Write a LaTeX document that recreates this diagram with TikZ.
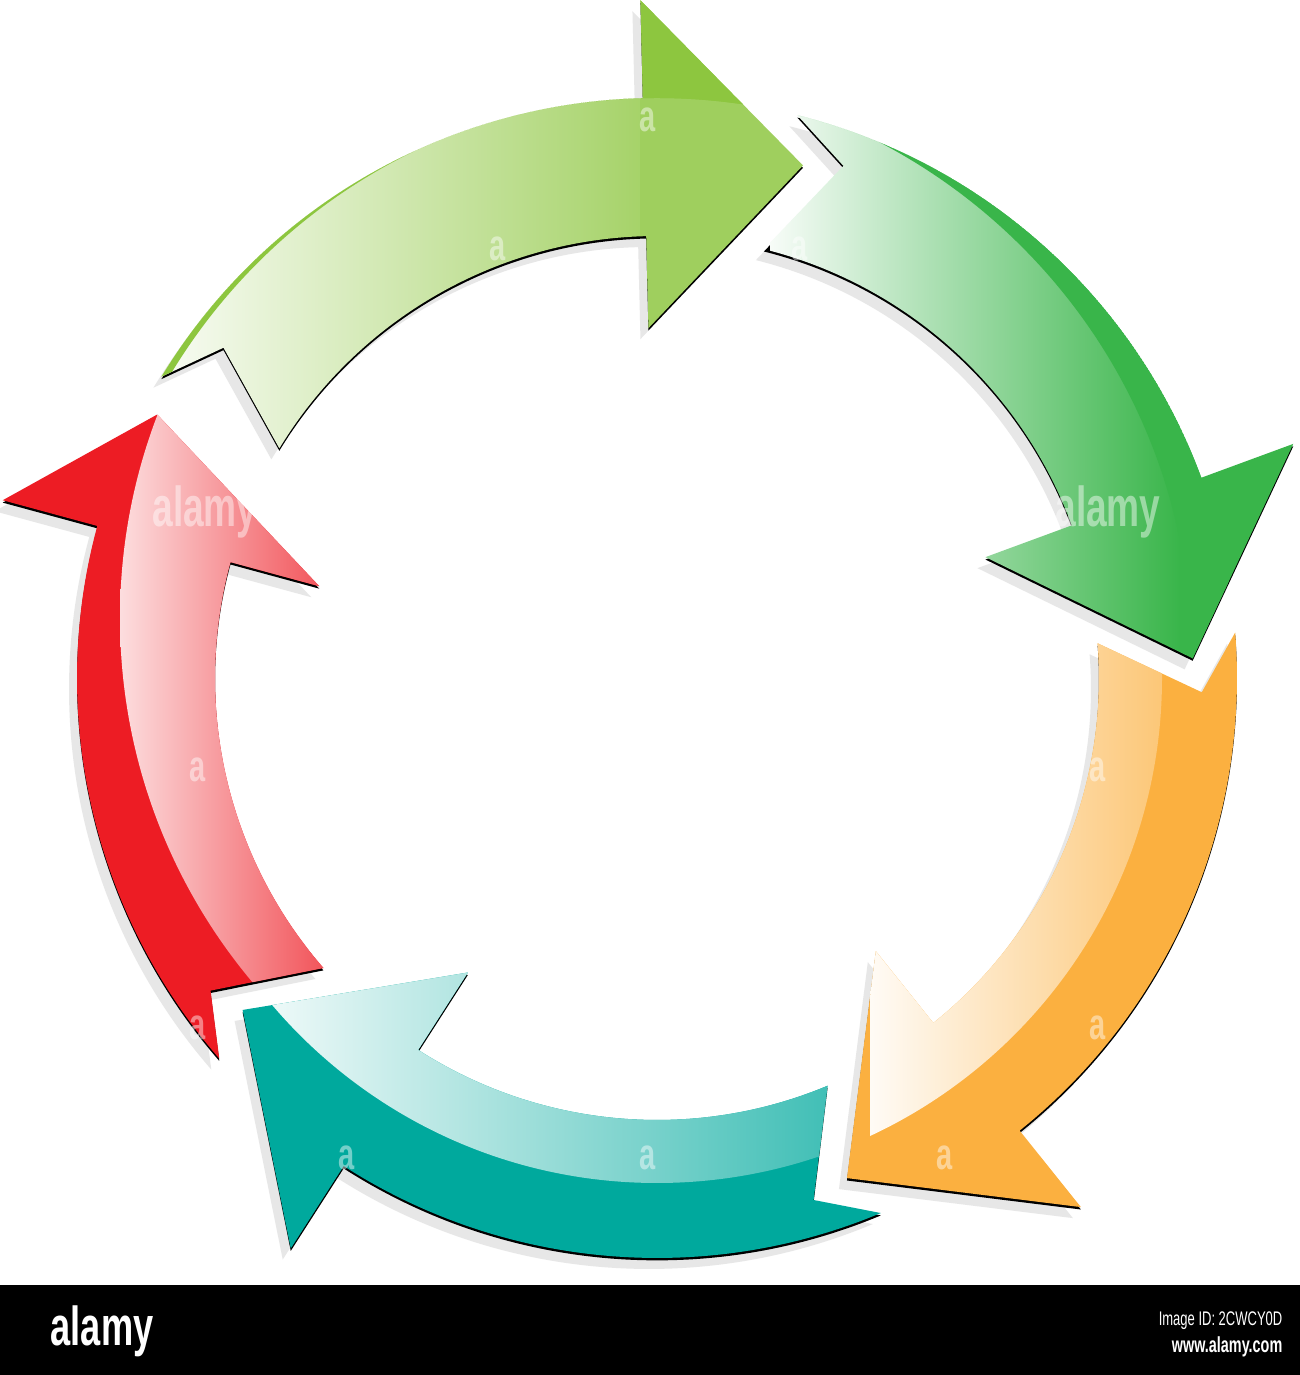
\documentclass[tikz,border=0pt]{standalone}
\usepackage{fontspec}
\setmainfont{Liberation Sans}
\newfontfamily\condfont[FakeStretch=0.66]{Liberation Sans}
\definecolor{gA}{HTML}{8DC63F}
\definecolor{gB}{HTML}{39B54A}
\definecolor{gC}{HTML}{FBB040}
\definecolor{gD}{HTML}{00A99D}
\definecolor{gE}{HTML}{ED1C24}
\definecolor{shadowgrey}{HTML}{E7E7E7}
% #1 tail angle, #2 head base angle, #3 tip angle, #4 tip radius
\newcommand\arrowpath[4]{(#1:580) -- ({#1-6}:545) -- (#1:442)
  arc[start angle=#1, end angle=#2, radius=442] -- (#2:350) -- (#3:#4)
  -- (#2:678) -- (#2:580) arc[start angle=#2, end angle=#1, radius=580] -- cycle}
\tikzset{
  wmark/.style={text=white, opacity=0.45, inner sep=0, font=\condfont\bfseries\fontsize{12.5}{13}\selectfont},
  edgeline/.style={fill=black, shift={(0,-2.4)}},
  dropshadow/.style={fill=shadowgrey, shift={(-8,-11)}}
}
\begin{document}
\begin{tikzpicture}[x=0.01cm, y=0.01cm]
\useasboundingbox (0,0) rectangle (1300,1375);
\fill[white] (0,0) rectangle (1300,1375);

\begin{scope}[shift={(657,697)}]
  % shadows
  \fill[dropshadow] \arrowpath{148.7}{91.4}{74.1}{533};
  \fill[dropshadow] \arrowpath{76}{20.2}{2.1}{536};
  \fill[dropshadow] \arrowpath{4.5}{-51.3}{-69.2}{535};
  \fill[dropshadow] \arrowpath{-67.3}{-122.7}{-141.3}{531};
  \fill[dropshadow] \arrowpath{-139}{-195.2}{-207.8}{565};

  % ---- top light green arrow
  \fill[edgeline] \arrowpath{148.7}{91.4}{74.1}{533};
  \begin{scope}
    \clip \arrowpath{148.7}{91.4}{74.1}{533};
    \shade[left color=gA!6!white, right color=gA!78!white] (-495,-100) rectangle (-17,800);
    \fill[gA!84!white] (-17,-100) rectangle (300,800);
    \fill[gA, even odd rule] (0,0) circle (580) (-800,-800) rectangle (800,800);
    \fill[gA, even odd rule] (0,0) circle (580) (25:12) circle (580);
  \end{scope}

  % ---- right green arrow
  \fill[edgeline] \arrowpath{76}{20.2}{2.1}{536};
  \begin{scope}
    \clip \arrowpath{76}{20.2}{2.1}{536};
    \shade[left color=gB!4!white, right color=gB] (113,-700) rectangle (523,700);
    \fill[gB] (523,-700) rectangle (800,700);
    \fill[gB, even odd rule] (0,0) circle (580) (155:50) circle (580);
  \end{scope}

  % ---- orange arrow
  \fill[edgeline] \arrowpath{4.5}{-51.3}{-69.2}{535};
  \fill[gC] \arrowpath{4.5}{-51.3}{-69.2}{535};
  \begin{scope}
    \clip \arrowpath{4.5}{-51.3}{-69.2}{535};
    \clip (0,0) circle (505);
    \shade[left color=gC!5!white, right color=gC!88!white] (213,-700) rectangle (580,700);
    \fill[gC!88!white] (580,-700) rectangle (800,700);
  \end{scope}

  % ---- teal arrow
  \fill[edgeline] \arrowpath{-67.3}{-122.7}{-141.3}{531};
  \fill[gD] \arrowpath{-67.3}{-122.7}{-141.3}{531};
  \begin{scope}
    \clip \arrowpath{-67.3}{-122.7}{-141.3}{531};
    \clip (0,0) circle (505);
    \shade[left color=gD!4!white, right color=gD!78!white] (-410,-700) rectangle (200,700);
    \fill[gD!78!white] (200,-700) rectangle (400,700);
  \end{scope}

  % ---- red arrow
  \fill[edgeline] \arrowpath{-139}{-195.2}{-207.8}{565};
  \fill[gE] \arrowpath{-139}{-195.2}{-207.8}{565};
  \begin{scope}
    \clip \arrowpath{-139}{-195.2}{-207.8}{565};
    \clip (30,60) circle (567);
    \shade[left color=gE!12!white, right color=gE!76!white] (-547,-700) rectangle (-330,700);
    \fill[gE!76!white] (-330,-700) rectangle (0,700);
  \end{scope}
\end{scope}

% faint watermarks
\node[wmark] (wm1) at (205,863) {\fontsize{16}{17}\selectfont alamy};
\node[wmark] (wm2) at (1108,863) {\fontsize{16}{17}\selectfont alamy};
\node[wmark] (wa1) at (648,1255) {a};
\node[wmark] (wa2) at (498,1126) {a};
\node[wmark] (wa3) at (800,1126) {a};
\node[wmark] (wa4) at (198,605) {a};
\node[wmark] (wa5) at (1098,605) {a};
\node[wmark] (wa6) at (198,347) {a};
\node[wmark] (wa7) at (1098,347) {a};
\node[wmark] (wa8) at (347,217) {a};
\node[wmark] (wa9) at (648,217) {a};
\node[wmark] (wa10) at (945,217) {a};

% bottom bar
\fill[black] (0,0) rectangle (1300,90);
\node[anchor=base west, inner sep=0, text=white, font=\condfont\bfseries\fontsize{15.6}{16}\selectfont] (logo) at (50,30) {alamy};
\node[anchor=base east, inner sep=0, text=white, font=\condfont\fontsize{5.6}{6}\selectfont] (imgid) at (1283,50) {Image ID: 2CWCY0D};
\node[anchor=base east, inner sep=0, text=white, font=\condfont\bfseries\fontsize{6.2}{7}\selectfont] (url) at (1283,22) {www.alamy.com};
\end{tikzpicture}
\end{document}
